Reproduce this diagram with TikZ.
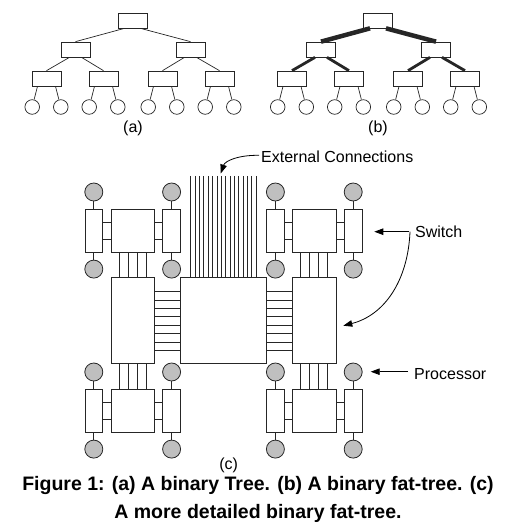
\documentclass[tikz,border=0pt]{standalone}
\usepackage{fontspec}
\setmainfont{Liberation Sans}
\usetikzlibrary{arrows.meta}
\begin{document}
\begin{tikzpicture}[x=1pt,y=-1pt,
  tb/.style={draw=black!85, rectangle, minimum width=29pt, minimum height=15pt, inner sep=0pt, line width=0.7pt},
  lf/.style={draw=black!85, circle, minimum size=14.6pt, inner sep=0pt, line width=0.7pt},
  ln/.style={draw=black!85, line width=0.8pt},
  bx/.style={draw=black!85, rectangle, inner sep=0pt, line width=0.8pt, fill=white},
  pr/.style={draw=black!85, circle, fill=gray!50, minimum size=18pt, inner sep=0pt, line width=0.8pt},
  lbl/.style={font=\fontsize{16}{19}\selectfont, inner sep=0pt},
  arr/.style={line width=0.8pt, -{Triangle[length=9pt,width=6.5pt]}}
]
\useasboundingbox (0,0) rectangle (521,529);

% ---------- trees (a) and (b)
\foreach \t/\dx/\wa/\wb in {a/0/0.7/0.7, b/245.5/4.5/2.8} {
  \node[tb] (r\t) at (132.5+\dx,20.5) {};
  \node[tb] (p\t1) at (75.5+\dx,49.5) {};
  \node[tb] (p\t2) at (190.5+\dx,49.5) {};
  \foreach \i/\x in {1/46.5,2/103.5,3/162.5,4/219.5} {
    \node[tb] (q\t\i) at (\x+\dx,78.5) {};
    \node[lf] (s\t\i L) at (\x-14.3+\dx,107) {};
    \node[lf] (s\t\i R) at (\x+14.3+\dx,107) {};
    \draw[ln, line width=0.7pt] ([xshift=-9pt]q\t\i.south) -- (s\t\i L);
    \draw[ln, line width=0.7pt] ([xshift=9pt]q\t\i.south) -- (s\t\i R);
  }
  \draw[ln, line width=\wa pt] ([xshift=-8pt]r\t.south) -- (p\t1.north);
  \draw[ln, line width=\wa pt] ([xshift=8pt]r\t.south) -- (p\t2.north);
  \draw[ln, line width=\wb pt] ([xshift=-6pt]p\t1.south) -- (q\t1.north);
  \draw[ln, line width=\wb pt] ([xshift=6pt]p\t1.south) -- (q\t2.north);
  \draw[ln, line width=\wb pt] ([xshift=-6pt]p\t2.south) -- (q\t3.north);
  \draw[ln, line width=\wb pt] ([xshift=6pt]p\t2.south) -- (q\t4.north);
}
\node[lbl] (la) at (133,128) {(a)};
\node[lbl] (lb) at (378,128) {(b)};

% ---------- (c) big boxes
\node[bx, minimum width=43.3pt, minimum height=85.6pt] (bigL) at (132.7,320.5) {};
\node[bx, minimum width=86.4pt, minimum height=85.6pt] (bigC) at (223.5,320.5) {};
\node[bx, minimum width=43.3pt, minimum height=85.6pt] (bigR) at (314.3,320.5) {};

% ---------- (c) switch groups
\foreach \gn/\cx/\cy in {TL/132.7/230.8, TR/314.3/230.8, BL/132.7/410.8, BR/314.3/410.8} {
  \node[bx, minimum width=43.3pt, minimum height=43pt] (\gn box) at (\cx,\cy) {};
  \node[bx, minimum width=17.5pt, minimum height=43pt] (\gn ra) at (\cx-38.9,\cy) {};
  \node[bx, minimum width=17.5pt, minimum height=43pt] (\gn rb) at (\cx+38.9,\cy) {};
  \node[pr] (\gn pa) at (\cx-38.9,\cy-38.8) {};
  \node[pr] (\gn pb) at (\cx-38.9,\cy+38.3) {};
  \node[pr] (\gn pc) at (\cx+38.9,\cy-38.8) {};
  \node[pr] (\gn pd) at (\cx+38.9,\cy+38.3) {};
  \draw[ln] (\gn pa) -- (\gn ra);
  \draw[ln] (\gn pb) -- (\gn ra);
  \draw[ln] (\gn pc) -- (\gn rb);
  \draw[ln] (\gn pd) -- (\gn rb);
  \foreach \s in {8.8,-8.6} {
    \draw[ln] ([yshift=\s pt]\gn ra.east) -- ([yshift=\s pt]\gn box.west);
    \draw[ln] ([yshift=\s pt]\gn rb.west) -- ([yshift=\s pt]\gn box.east);
  }
}
\foreach \o in {-13.5,-4.5,4.5,13.5} {
  \draw[ln] ([xshift=\o pt]TLbox.south) -- ([xshift=\o pt]bigL.north);
  \draw[ln] ([xshift=\o pt]TRbox.south) -- ([xshift=\o pt]bigR.north);
  \draw[ln] ([xshift=\o pt]bigL.south) -- ([xshift=\o pt]BLbox.north);
  \draw[ln] ([xshift=\o pt]bigR.south) -- ([xshift=\o pt]BRbox.north);
}
% ladders
\foreach \k in {0,...,7} {
  \pgfmathsetmacro\yy{291.5+\k*8.45}
  \draw[ln] (bigL.east |- 0,\yy) -- (bigC.west |- 0,\yy);
  \draw[ln] (bigC.east |- 0,\yy) -- (bigR.west |- 0,\yy);
}
% external connections
\foreach \k in {0,...,15} {
  \pgfmathsetmacro\xx{190.8+\k*4.35}
  \coordinate (ext\k) at (\xx,176);
  \draw[ln] (ext\k) -- (bigC.north -| ext\k);
}

% ---------- labels and arrows
\node[lbl, anchor=west] (ext) at (261,156.3) {External Connections};
\coordinate (extTip) at (220.7,173.5);
\draw[arr] ([xshift=-2pt,yshift=1pt]ext.west) .. controls (238,155) and (225,161) .. (extTip);

\node[lbl, anchor=west] (sw) at (415,231.7) {Switch};
\coordinate (swTip) at (374.3,231.7);
\coordinate (swTip2) at (343.3,325.7);
\draw[arr] ([xshift=-6pt]sw.west) -- (swTip);
\draw[arr] ([xshift=-5pt]sw.west) .. controls (408,280) and (385,315) .. (swTip2);

\node[lbl, anchor=west] (proc) at (414,374.3) {Processor};
\coordinate (procTip) at (370.7,371.7);
\draw[arr] ([xshift=-6pt,yshift=2.6pt]proc.west) -- (procTip);

\node[lbl] (lc) at (228.7,465) {(c)};

\node[font=\fontsize{19.5}{28}\selectfont\bfseries, align=center, inner sep=0pt] (cap) at (258,499)
  {Figure 1: (a) A binary Tree. (b) A binary fat-tree. (c)\\A more detailed binary fat-tree.};
\end{tikzpicture}
\end{document}
